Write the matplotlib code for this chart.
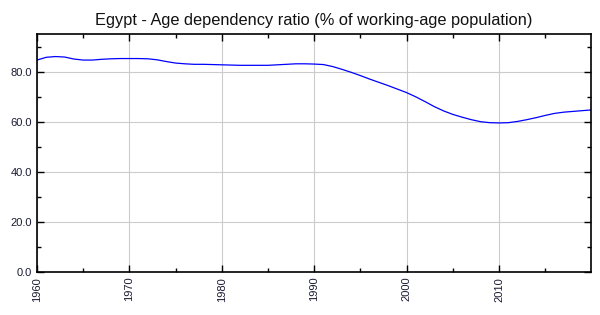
import matplotlib
matplotlib.use("Agg")
import matplotlib.pyplot as plt
from matplotlib.ticker import MultipleLocator, FormatStrFormatter

plt.rcParams['font.family'] = ['Liberation Sans', 'DejaVu Sans']

years = list(range(1960, 2021))
ratio = [84.6, 85.7, 86.0, 85.8, 85.0, 84.6, 84.6, 84.9, 85.1, 85.2,
         85.2, 85.2, 85.1, 84.7, 84.0, 83.4, 83.1, 82.9, 82.9, 82.8,
         82.7, 82.6, 82.5, 82.5, 82.5, 82.5, 82.7, 82.9, 83.1, 83.1,
         83.0, 82.8, 82.0, 80.9, 79.7, 78.4, 77.0, 75.7, 74.4, 73.0,
         71.6, 69.9, 68.0, 66.0, 64.3, 62.9, 61.8, 60.8, 60.0, 59.6,
         59.5, 59.6, 60.1, 60.8, 61.6, 62.5, 63.3, 63.8, 64.1, 64.4,
         64.7]
title = "Egypt - Age dependency ratio (% of working-age population)"

fig = plt.figure(figsize=(6, 3.15), dpi=100)
ax = fig.add_axes([37/600, 1 - 272/315, (591-37)/600, (272-34)/315])

ax.plot(years, ratio, color='#0000ff', lw=0.9)

ax.set_xlim(1960, 2019.95)
ax.set_ylim(0, 95)
ax.xaxis.set_major_locator(MultipleLocator(10))
ax.xaxis.set_minor_locator(MultipleLocator(5))
ax.yaxis.set_major_locator(MultipleLocator(20))
ax.yaxis.set_minor_locator(MultipleLocator(10))
ax.yaxis.set_major_formatter(FormatStrFormatter('%.1f'))

ax.grid(True, which='major', color='#cccccc', lw=0.8)
ax.set_axisbelow(True)
ax.tick_params(which='both', direction='in', top=True, right=True,
               labelsize=8, labelcolor='#1a1a33', width=1)
ax.tick_params(which='major', length=5)
ax.tick_params(which='minor', length=3)
for lbl in ax.get_xticklabels():
    lbl.set_rotation(90)
for s in ax.spines.values():
    s.set_linewidth(1.2)

fig.text(314/600, 1 - 20/315, title, ha='center', va='center', fontsize=11.8, color='#111111')

fig.savefig("out.png", dpi=100)
